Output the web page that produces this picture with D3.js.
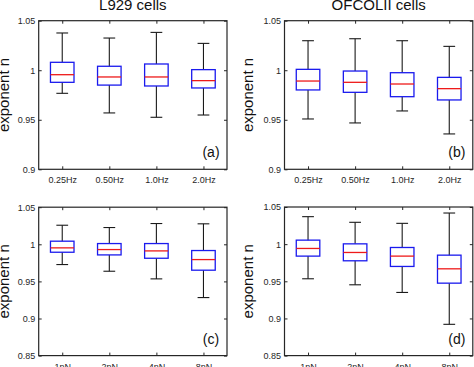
<!DOCTYPE html>
<html>
<head>
<meta charset="utf-8">
<script src="https://cdn.jsdelivr.net/npm/d3@7"></script>
<style>
  body { margin: 0; background: #fff; }
  svg { display: block; font-family: "Liberation Sans", Arial, Helvetica, sans-serif; }
</style>
</head>
<body>
<div id="chart"></div>
<script>
// category labels
var freqLabels = ["0.25Hz", "0.50Hz", "1.0Hz", "2.0Hz"];
var forceLabels = ["1nN", "2nN", "4nN", "8nN"];

// box stats per category: [whisker low, q1, median, q3, whisker high]
var l929Freq = [
    [0.9767, 0.9878, 0.9955, 1.0080, 1.0376],
    [0.9569, 0.9850, 0.9932, 1.0040, 1.0325],
    [0.9525, 0.9841, 0.9932, 1.0063, 1.0382],
    [0.9548, 0.9821, 0.9895, 1.0006, 1.0271]
];
var ofcFreq = [
    [0.9508, 0.9801, 0.9891, 1.0009, 1.0298],
    [0.9468, 0.9777, 0.9878, 0.9992, 1.0318],
    [0.9589, 0.9733, 0.9861, 0.9975, 1.0298],
    [0.9357, 0.9700, 0.9814, 0.9928, 1.0241]
];
var l929Force = [
    [0.9727, 0.9893, 0.9952, 1.0042, 1.0257],
    [0.9637, 0.9857, 0.9929, 1.0010, 1.0226],
    [0.9534, 0.9812, 0.9911, 1.0010, 1.0280],
    [0.9282, 0.9651, 0.9794, 0.9916, 1.0276]
];
var ofcForce = [
    [0.9534, 0.9839, 0.9942, 1.0054, 1.0370],
    [0.9453, 0.9776, 0.9888, 1.0004, 1.0294],
    [0.9350, 0.9700, 0.9839, 0.9955, 1.0280],
    [0.8921, 0.9475, 0.9668, 0.9852, 1.0419]
];

// y ticks
var topTicks = [0.9, 0.95, 1, 1.05];
var bottomTicks = [0.85, 0.9, 0.95, 1, 1.05];

var W = 474, H = 367;
var svg = d3.select("#chart").append("svg")
    .attr("width", W)
    .attr("height", H);

var panels = [
    { x: 38.7, y: 20.7, w: 188.3, h: 148.6, cats: freqLabels, data: l929Freq, ticks: topTicks, tag: "(a)", title: "L929 cells", labX: 9 },
    { x: 284.5, y: 20.7, w: 188.3, h: 148.6, cats: freqLabels, data: ofcFreq, ticks: topTicks, tag: "(b)", title: "OFCOLII cells", labX: 252.5 },
    { x: 38.7, y: 207.2, w: 188.3, h: 148.4, cats: forceLabels, data: l929Force, ticks: bottomTicks, tag: "(c)", labX: 9 },
    { x: 284.5, y: 207.0, w: 188.3, h: 148.6, cats: forceLabels, data: ofcForce, ticks: bottomTicks, tag: "(d)", labX: 252.5 }
];

var axisColor = "#262626";

panels.forEach(function(p) {
    var g = svg.append("g")
        .attr("transform", "translate(" + p.x + "," + p.y + ")");

    var x = d3.scalePoint()
        .domain(p.cats)
        .range([0, p.w])
        .padding(0.5);
    var y = d3.scaleLinear()
        .domain([d3.min(p.ticks), d3.max(p.ticks)])
        .range([p.h, 0]);

    var boxW = x.step() * 0.5;
    var capW = x.step() * 0.25;

    // axes with inward ticks on every side
    var yl = g.append("g")
        .call(d3.axisLeft(y).tickValues(p.ticks).tickSize(-3).tickPadding(3.5)
            .tickFormat(function(d) { return String(d); }));
    var yr = g.append("g")
        .attr("transform", "translate(" + p.w + ",0)")
        .call(d3.axisRight(y).tickValues(p.ticks).tickSize(-3).tickFormat(""));
    var xb = g.append("g")
        .attr("transform", "translate(0," + p.h + ")")
        .call(d3.axisBottom(x).tickSize(-3).tickPadding(6));
    var xt = g.append("g")
        .call(d3.axisTop(x).tickSize(-3).tickFormat(""));

    [yl, yr, xb, xt].forEach(function(a) {
        a.select(".domain").remove();
        a.selectAll("line").attr("stroke", axisColor).attr("stroke-width", 1);
        a.selectAll("text")
            .attr("fill", "#262626")
            .style("font-size", "9px")
            .style("font-family", "'Liberation Sans', Arial, sans-serif");
    });
    xb.selectAll("text").attr("dy", "0.9em");

    // frame
    g.append("rect")
        .attr("width", p.w)
        .attr("height", p.h)
        .attr("fill", "none")
        .attr("stroke", axisColor)
        .attr("stroke-width", 1.2);

    var boxes = g.selectAll(".bx")
        .data(p.data)
        .enter()
        .append("g")
        .attr("class", "bx")
        .attr("transform", function(d, i) { return "translate(" + x(p.cats[i]) + ",0)"; });

    // whiskers
    boxes.append("line")
        .attr("y1", function(d) { return y(d[3]); })
        .attr("y2", function(d) { return y(d[4]); })
        .attr("stroke", "#1a1a1a").attr("stroke-width", 1.1);
    boxes.append("line")
        .attr("y1", function(d) { return y(d[0]); })
        .attr("y2", function(d) { return y(d[1]); })
        .attr("stroke", "#1a1a1a").attr("stroke-width", 1.1);
    boxes.append("line")
        .attr("x1", -capW / 2).attr("x2", capW / 2)
        .attr("y1", function(d) { return y(d[4]); })
        .attr("y2", function(d) { return y(d[4]); })
        .attr("stroke", "#1a1a1a").attr("stroke-width", 1.1);
    boxes.append("line")
        .attr("x1", -capW / 2).attr("x2", capW / 2)
        .attr("y1", function(d) { return y(d[0]); })
        .attr("y2", function(d) { return y(d[0]); })
        .attr("stroke", "#1a1a1a").attr("stroke-width", 1.1);

    // box
    boxes.append("rect")
        .attr("x", -boxW / 2)
        .attr("width", boxW)
        .attr("y", function(d) { return y(d[3]); })
        .attr("height", function(d) { return y(d[1]) - y(d[3]); })
        .attr("fill", "none")
        .attr("stroke", "#1a1aee")
        .attr("stroke-width", 1.3);

    // median
    boxes.append("line")
        .attr("x1", -boxW / 2).attr("x2", boxW / 2)
        .attr("y1", function(d) { return y(d[2]); })
        .attr("y2", function(d) { return y(d[2]); })
        .attr("stroke", "#ee1a1a")
        .attr("stroke-width", 1.3);

    // panel tag
    g.append("text")
        .attr("x", p.w - 16)
        .attr("y", p.h - 12)
        .attr("text-anchor", "middle")
        .style("font-size", "14px")
        .attr("fill", "#111")
        .text(p.tag);

    // y label
    svg.append("text")
        .attr("transform", "translate(" + p.labX + "," + (p.y + p.h / 2) + ") rotate(-90)")
        .attr("text-anchor", "middle")
        .style("font-size", "15px")
        .attr("fill", "#111")
        .text("exponent n");

    if (p.title) {
        svg.append("text")
            .attr("x", p.x + p.w / 2)
            .attr("y", 9.5)
            .attr("text-anchor", "middle")
            .style("font-size", "15px")
            .attr("fill", "#111")
            .text(p.title);
    }
});
</script>
</body>
</html>
